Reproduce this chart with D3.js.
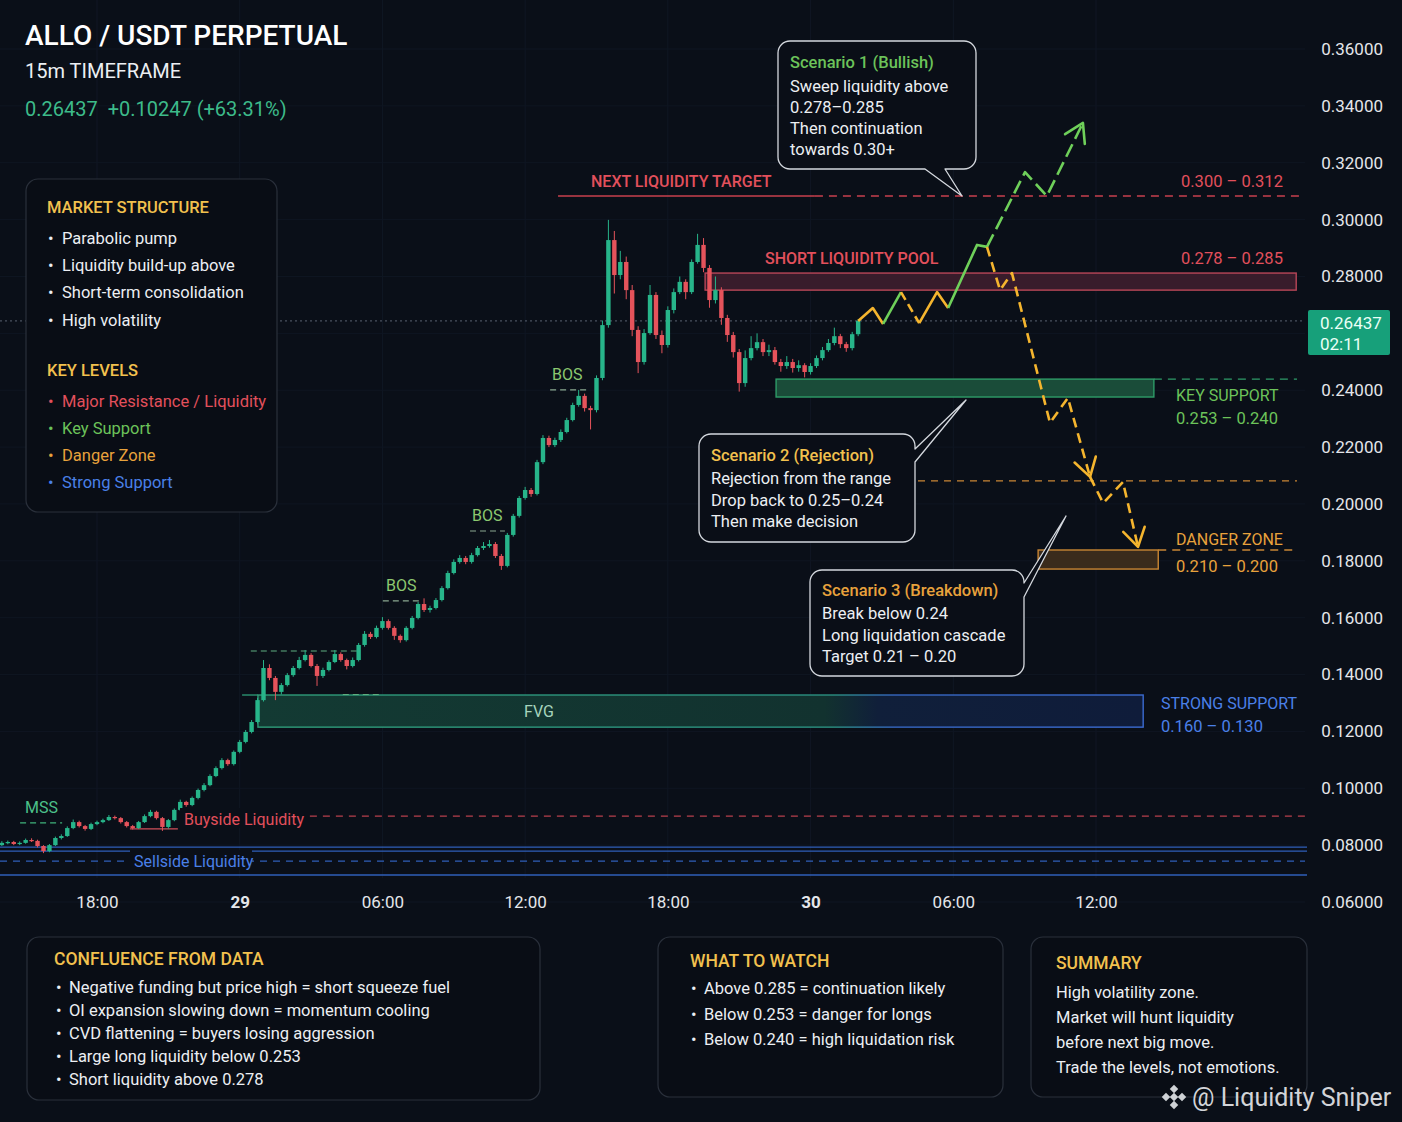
<!DOCTYPE html>
<html>
<head>
<meta charset="utf-8">
<script src="https://cdn.jsdelivr.net/npm/d3@7"></script>
<style>
  body { margin: 0; background: #0a0f18; }
  svg { display: block; font-family: Roboto, "Noto Sans", sans-serif; }
  text { white-space: pre; }
</style>
</head>
<body>
<div id="chart"></div>
<script>
// ---- data ----
const startTime = "28 14:00";           // first 15m candle
const firstOpen = 0.0800;
const closes = [
  0.0808,0.0811,0.0804,0.0808,0.0818,0.0815,0.0797,0.0779,0.0800,0.0825,
  0.0832,0.0860,0.0881,0.0867,0.0857,0.0874,0.0881,0.0888,0.0899,0.0895,
  0.0881,0.0867,0.0860,0.0881,0.0902,0.0917,0.0895,0.0864,0.0888,0.0924,
  0.0952,0.0941,0.0966,0.0994,0.1011,0.1043,0.1071,0.1099,0.1085,0.1128,
  0.1163,0.1198,0.1233,0.1310,0.1423,0.1388,0.1339,0.1363,0.1398,0.1423,
  0.1451,0.1469,0.1430,0.1395,0.1416,0.1444,0.1472,0.1451,0.1430,0.1451,
  0.1504,0.1543,0.1532,0.1564,0.1588,0.1564,0.1536,0.1521,0.1564,0.1599,
  0.1648,0.1627,0.1634,0.1662,0.1704,0.1757,0.1796,0.1810,0.1796,0.1820,
  0.1845,0.1852,0.1859,0.1817,0.1782,0.1891,0.1958,0.2021,0.2049,0.2035,
  0.2147,0.2232,0.2207,0.2225,0.2253,0.2295,0.2348,0.2380,0.2337,0.2330,
  0.2443,0.2629,0.2928,0.2805,0.2851,0.2752,0.2612,0.2499,0.2601,0.2735,
  0.2594,0.2559,0.2682,0.2745,0.2781,0.2745,0.2851,0.2911,0.2830,0.2717,
  0.2752,0.2654,0.2594,0.2534,0.2425,0.2513,0.2548,0.2569,0.2534,0.2541,
  0.2499,0.2485,0.2499,0.2478,0.2488,0.2464,0.2485,0.2513,0.2541,0.2566,
  0.2590,0.2562,0.2548,0.2597,0.26437];
const highs = [
  0.0814,0.0816,0.0815,0.0813,0.0823,0.0824,0.0819,0.0800,0.0804,0.0830,
  0.0838,0.0866,0.0890,0.0886,0.0871,0.0879,0.0886,0.0893,0.0906,0.0904,
  0.0899,0.0885,0.0871,0.0885,0.0908,0.0924,0.0921,0.0899,0.0892,0.0929,
  0.0960,0.0956,0.0971,0.0999,0.1018,0.1049,0.1077,0.1106,0.1104,0.1133,
  0.1170,0.1205,0.1240,0.1318,0.1451,0.1436,0.1395,0.1370,0.1405,0.1430,
  0.1462,0.1486,0.1475,0.1437,0.1424,0.1450,0.1486,0.1478,0.1456,0.1460,
  0.1511,0.1553,0.1550,0.1572,0.1602,0.1594,0.1570,0.1541,0.1570,0.1606,
  0.1655,0.1668,0.1642,0.1669,0.1711,0.1765,0.1805,0.1820,0.1817,0.1828,
  0.1852,0.1866,0.1873,0.1866,0.1824,0.1898,0.1965,0.2028,0.2060,0.2056,
  0.2155,0.2242,0.2240,0.2233,0.2262,0.2303,0.2356,0.2401,0.2388,0.2345,
  0.2452,0.2645,0.2999,0.2960,0.2890,0.2870,0.2770,0.2625,0.2615,0.2770,
  0.2745,0.2610,0.2695,0.2758,0.2800,0.2790,0.2860,0.2950,0.2935,0.2840,
  0.2800,0.2762,0.2665,0.2605,0.2545,0.2540,0.2590,0.2600,0.2580,0.2560,
  0.2552,0.2510,0.2520,0.2510,0.2505,0.2495,0.2495,0.2522,0.2552,0.2580,
  0.2620,0.2598,0.2570,0.2605,0.2650];
const lows = [
  0.0797,0.0803,0.0800,0.0800,0.0805,0.0811,0.0792,0.0772,0.0775,0.0797,
  0.0820,0.0829,0.0856,0.0862,0.0851,0.0853,0.0870,0.0877,0.0885,0.0890,
  0.0876,0.0862,0.0855,0.0857,0.0878,0.0898,0.0890,0.0850,0.0858,0.0884,
  0.0920,0.0935,0.0937,0.0961,0.0989,0.1007,0.1039,0.1066,0.1079,0.1080,
  0.1123,0.1158,0.1193,0.1228,0.1305,0.1380,0.1310,0.1330,0.1358,0.1392,
  0.1418,0.1446,0.1425,0.1360,0.1388,0.1411,0.1440,0.1445,0.1418,0.1425,
  0.1446,0.1498,0.1525,0.1527,0.1558,0.1558,0.1522,0.1512,0.1516,0.1559,
  0.1594,0.1620,0.1618,0.1629,0.1657,0.1699,0.1752,0.1790,0.1788,0.1790,
  0.1815,0.1838,0.1846,0.1810,0.1768,0.1777,0.1885,0.1952,0.2015,0.2025,
  0.2030,0.2140,0.2200,0.2200,0.2218,0.2248,0.2290,0.2342,0.2325,0.2262,
  0.2322,0.2435,0.2620,0.2740,0.2790,0.2720,0.2590,0.2460,0.2490,0.2595,
  0.2580,0.2530,0.2550,0.2670,0.2738,0.2720,0.2738,0.2845,0.2815,0.2690,
  0.2705,0.2630,0.2570,0.2515,0.2395,0.2412,0.2505,0.2540,0.2520,0.2520,
  0.2490,0.2465,0.2475,0.2462,0.2465,0.2445,0.2455,0.2478,0.2505,0.2535,
  0.2558,0.2548,0.2535,0.2540,0.2590];

const lastPrice = 0.26437;
const priceTicks = [0.36,0.34,0.32,0.30,0.28,0.26,0.24,0.22,0.20,0.18,0.16,0.14,0.12,0.10,0.08,0.06];
const timeTicks = ["28 18:00","29 00:00","29 06:00","29 12:00","29 18:00","30 00:00","30 06:00","30 12:00"];

// zones as drawn: [from, to, lower price, upper price]
const shortPool   = ["29 19:34", "30 20:25", 0.2752, 0.2812];
const keySupport  = ["29 22:33", "30 14:26", 0.2376, 0.2439];
const dangerZone  = ["30 09:34", "30 14:37", 0.1771, 0.1838];
const fvgZone     = ["29 00:46", "30 13:59", 0.1215, 0.1328];

// levels: [from, to, price]
const nextTargetSolid = ["29 13:23", "30 00:11", 0.3083];
const nextTargetDash  = ["30 00:11", "30 20:47", 0.3083];
const keySupportDash  = ["30 14:26", "30 20:27", 0.2439];
const midOrangeDash   = ["30 04:31", "30 20:27", 0.2081];
const dangerDash      = ["30 14:37", "30 20:27", 0.1838];
const fvgTopExt       = ["29 00:06", "29 00:46", 0.1328];
const buysideDash     = ["29 02:57", "30 20:47", 0.0902];
const buysideSolid    = ["28 19:23", "28 21:24", 0.0857];
const mssDash         = ["28 14:46", "28 16:32", 0.0878];
const bosLevels = [["29 06:01","29 07:35",0.1659],["29 09:41","29 11:09",0.1905],["29 13:03","29 14:36",0.2401]];
const greenDashLevels = [["29 00:28","29 04:56",0.1483],["29 04:20","29 06:00",0.1330]];
const sellsideSolid = [0.0793, 0.0779, 0.0695];
const sellsideDash  = 0.0744;

// projected scenarios
const rangePath = [["30 02:00",0.26437],["30 02:37",0.2689],["30 03:03",0.2633],["30 03:48",0.2745],
                   ["30 04:34",0.2636],["30 05:19",0.2745],["30 05:47",0.2689]];
const bullPath  = [["30 05:47",0.2689],["30 07:00",0.2911],["30 07:25",0.2904]];
const bullDash  = [["30 07:25",0.2904],["30 09:01",0.3167],["30 09:56",0.3083],["30 11:27",0.3340]];
const dropPathA = [["30 07:25",0.2904],["30 07:58",0.2752],["30 08:28",0.2812],["30 10:04",0.2285],
                   ["30 10:49",0.2373],["30 11:45",0.2095]];
const dropPathB = [["30 11:45",0.2095],["30 12:18",0.2003],["30 13:08",0.2077],["30 13:46",0.1849]];

// ---- setup ----
const W = 1402, H = 1122;
const parseT = d3.timeParse("%Y-%m-%d %H:%M");
const T = s => parseT("2025-12-" + s);

const x = d3.scaleTime().domain([T("28 18:00"), T("30 12:00")]).range([97, 1096]);
const y = d3.scaleLinear().domain([0.06, 0.36]).range([902, 49]);
const xL = 0, xR = 1305;

const candles = closes.map((c, i) => ({
  t: d3.timeMinute.offset(T(startTime), 15 * i),
  o: i === 0 ? firstOpen : closes[i - 1],
  h: highs[i], l: lows[i], c: c
}));

const svg = d3.select("#chart").append("svg").attr("width", W).attr("height", H);
const defs = svg.append("defs");

svg.append("rect").attr("width", W).attr("height", H).attr("fill", "#0a0f18");

// faint grid
svg.append("g").selectAll("line").data(timeTicks).enter().append("line")
  .attr("x1", d => x(T(d))).attr("x2", d => x(T(d))).attr("y1", 0).attr("y2", 878)
  .attr("stroke", "#101724").attr("stroke-width", 1);
svg.append("g").selectAll("line").data(priceTicks).enter().append("line")
  .attr("x1", xL).attr("x2", xR).attr("y1", d => y(d)).attr("y2", d => y(d))
  .attr("stroke", "#0f1622").attr("stroke-width", 1);

// gradients
const fvgFill = defs.append("linearGradient").attr("id", "fvgFill");
fvgFill.append("stop").attr("offset", "0%").attr("stop-color", "#133a33");
fvgFill.append("stop").attr("offset", "64%").attr("stop-color", "#12322f");
fvgFill.append("stop").attr("offset", "70%").attr("stop-color", "#101f3a");
fvgFill.append("stop").attr("offset", "100%").attr("stop-color", "#0f1c3a");
const fvgStroke = defs.append("linearGradient").attr("id", "fvgStroke");
fvgStroke.append("stop").attr("offset", "0%").attr("stop-color", "#2e9c78");
fvgStroke.append("stop").attr("offset", "65%").attr("stop-color", "#2a8f80");
fvgStroke.append("stop").attr("offset", "72%").attr("stop-color", "#3565c0");
fvgStroke.append("stop").attr("offset", "100%").attr("stop-color", "#3a6ad0");

// arrow markers
function chevron(id, color) {
  defs.append("marker").attr("id", id)
    .attr("viewBox", "-22 -14 26 28").attr("refX", 0).attr("refY", 0)
    .attr("markerWidth", 26).attr("markerHeight", 28)
    .attr("markerUnits", "userSpaceOnUse").attr("orient", "auto")
    .append("path").attr("d", "M-18,-11 L0,0 L-18,11")
    .attr("fill", "none").attr("stroke", color).attr("stroke-width", 2.6)
    .attr("stroke-linecap", "round").attr("stroke-linejoin", "round");
}
chevron("arrG", "#6fd05a");
chevron("arrY", "#f5b52e");

// ---- zones ----
function zone(z, fill, stroke, sw) {
  svg.append("rect")
    .attr("x", x(T(z[0]))).attr("width", x(T(z[1])) - x(T(z[0])))
    .attr("y", y(z[3])).attr("height", y(z[2]) - y(z[3]))
    .attr("fill", fill).attr("stroke", stroke).attr("stroke-width", sw || 1.4);
}
zone(shortPool, "#381c2b", "#b84658");
zone(keySupport, "#1a4c39", "#2e9c68");
zone(dangerZone, "#3a2b1c", "#c98634");
zone(fvgZone, "url(#fvgFill)", "url(#fvgStroke)");

function level(l, color, dash, sw) {
  svg.append("line")
    .attr("x1", x(T(l[0]))).attr("x2", x(T(l[1])))
    .attr("y1", y(l[2])).attr("y2", y(l[2]))
    .attr("stroke", color).attr("stroke-width", sw || 1.3)
    .attr("stroke-dasharray", dash || null);
}
level(nextTargetSolid, "#c8404d");
level(nextTargetDash, "#c8404d", "8,6");
level(keySupportDash, "#2e9c68", "8,6");
level(midOrangeDash, "#c98634", "7,6");
level(dangerDash, "#c98634", "8,6");
level(fvgTopExt, "#2e9c78");
level(buysideDash, "#b8404c", "7,6");
level(buysideSolid, "#d0505a");
level(mssDash, "#3fb27a", "6,4");
bosLevels.forEach(l => level(l, "#8aa890", "6,4", 1.1));
greenDashLevels.forEach(l => level(l, "#5fae80", "6,4", 1.1));

// sellside
sellsideSolid.forEach(p => svg.append("line").attr("x1", xL).attr("x2", xR + 2)
  .attr("y1", y(p)).attr("y2", y(p)).attr("stroke", "#2f5fb8").attr("stroke-width", 1.4));
svg.append("line").attr("x1", xL).attr("x2", xR).attr("y1", y(sellsideDash)).attr("y2", y(sellsideDash))
  .attr("stroke", "#2f5fb8").attr("stroke-width", 1.2).attr("stroke-dasharray", "7,6");

// last price dotted line
svg.append("line").attr("x1", xL).attr("x2", xR).attr("y1", y(lastPrice)).attr("y2", y(lastPrice))
  .attr("stroke", "#5a6272").attr("stroke-width", 1).attr("stroke-dasharray", "2,3");

// ---- candles ----
const up = "#27b58a", down = "#e5535b";
const cg = svg.append("g");
cg.selectAll("line").data(candles).enter().append("line")
  .attr("x1", d => x(d.t)).attr("x2", d => x(d.t))
  .attr("y1", d => y(d.h)).attr("y2", d => y(d.l))
  .attr("stroke", d => d.c >= d.o ? up : down).attr("stroke-width", 1);
cg.selectAll("rect").data(candles).enter().append("rect")
  .attr("x", d => x(d.t) - 2.2).attr("width", 4.4)
  .attr("y", d => y(Math.max(d.o, d.c)))
  .attr("height", d => Math.max(1.2, Math.abs(y(d.o) - y(d.c))))
  .attr("fill", d => d.c >= d.o ? up : down);

// ---- scenario paths ----
const line = d3.line().x(d => x(T(d[0]))).y(d => y(d[1]));
function seg(pts, color, dash, marker) {
  svg.append("path").attr("d", line(pts)).attr("fill", "none")
    .attr("stroke", color).attr("stroke-width", 2.6)
    .attr("stroke-linejoin", "round").attr("stroke-linecap", "butt")
    .attr("stroke-dasharray", dash || null)
    .attr("marker-end", marker ? "url(#" + marker + ")" : null);
}
const G = "#6fd05a", Y = "#f5b52e";
seg(rangePath.slice(0, 3), Y);
seg(rangePath.slice(2, 4), G);
seg(rangePath.slice(3, 5), Y, "9,5");
seg(rangePath.slice(4, 7), Y);
seg(bullPath, G);
seg(bullDash, G, "14,6", "arrG");
seg(dropPathA, Y, "10,6", "arrY");
seg(dropPathB, Y, "10,6", "arrY");

// ---- callouts ----
function callout(bx, by, bw, bh, side, a, b, tip) {
  const r = 12;
  let p = `M${bx + r},${by} H${bx + bw - r} A${r},${r} 0 0 1 ${bx + bw},${by + r} `;
  if (side === "right") p += `V${a} L${tip[0]},${tip[1]} L${bx + bw},${b} `;
  p += `V${by + bh - r} A${r},${r} 0 0 1 ${bx + bw - r},${by + bh} `;
  if (side === "bottom") p += `H${b} L${tip[0]},${tip[1]} L${a},${by + bh} `;
  p += `H${bx + r} A${r},${r} 0 0 1 ${bx},${by + bh - r} V${by + r} A${r},${r} 0 0 1 ${bx + r},${by} Z`;
  svg.append("path").attr("d", p).attr("fill", "#0a0e17")
    .attr("stroke", "#d4d8de").attr("stroke-width", 1.3).attr("stroke-linejoin", "round");
}
function textBlock(tx, lines, color0, baselines, size) {
  const g = svg.append("g");
  lines.forEach((s, i) => g.append("text").attr("x", tx).attr("y", baselines[i])
    .attr("fill", i === 0 ? color0 : "#eceff3").attr("font-size", size || 16.5)
    .attr("font-weight", i === 0 ? 500 : 400).text(s));
}
callout(778, 41, 198, 128, "bottom", 925, 945, [962, 196]);
textBlock(790, ["Scenario 1 (Bullish)", "Sweep liquidity above", "0.278–0.285", "Then continuation", "towards 0.30+"],
  "#6cc35a", [68, 92, 113, 134, 155]);
callout(699, 434, 216, 108, "right", 449, 462, [966, 400]);
textBlock(711, ["Scenario 2 (Rejection)", "Rejection from the range", "Drop back to 0.25–0.24", "Then make decision"],
  "#f2c14e", [461, 484, 506, 527]);
callout(810, 570, 214, 106, "right", 583, 597, [1066, 516]);
textBlock(822, ["Scenario 3 (Breakdown)", "Break below 0.24", "Long liquidation cascade", "Target 0.21 – 0.20"],
  "#e8a23c", [596, 619, 641, 662]);

// ---- level labels ----
function label(tx, ty, s, color, size, anchor, weight) {
  svg.append("text").attr("x", tx).attr("y", ty).attr("fill", color)
    .attr("font-size", size || 15).attr("text-anchor", anchor || "start")
    .attr("font-weight", weight || 400).text(s);
}
const RED = "#e2505c", GRN = "#6cc35a", ORG = "#e8a23c", BLU = "#4a80e8";
label(591, 187, "NEXT LIQUIDITY TARGET", RED, 16, "start", 500);
label(1181, 187, "0.300 – 0.312", RED, 16.5);
label(765, 264, "SHORT LIQUIDITY POOL", RED, 16, "start", 500);
label(1181, 264, "0.278 – 0.285", RED, 16.5);
label(1176, 401, "KEY SUPPORT", GRN, 16);
label(1176, 424, "0.253 – 0.240", GRN, 16.5);
label(1176, 545, "DANGER ZONE", ORG, 16);
label(1176, 572, "0.210 – 0.200", ORG, 16.5);
label(1161, 709, "STRONG SUPPORT", BLU, 16);
label(1161, 732, "0.160 – 0.130", BLU, 16.5);
label(539, 717, "FVG", "#a6d4bd", 16, "middle");
svg.append("rect").attr("x", 180).attr("y", 808).attr("width", 124).attr("height", 20).attr("fill", "#0a0f18");
label(184, 825, "Buyside Liquidity", RED, 16);
svg.append("rect").attr("x", 130).attr("y", 850).attr("width", 122).attr("height", 20).attr("fill", "#0a0f18");
label(134, 867, "Sellside Liquidity", BLU, 16);
label(25, 813, "MSS", "#4cc08a", 16);
label(386, 591, "BOS", "#8cc870", 16);
label(472, 521, "BOS", "#8cc870", 16);
label(552, 380, "BOS", "#8cc870", 16);

// ---- axes ----
const fmtTime = d => d.getHours() === 0 ? d3.timeFormat("%-d")(d) : d3.timeFormat("%H:%M")(d);
const xAxis = svg.append("g").attr("transform", "translate(0,896)")
  .call(d3.axisBottom(x).tickValues(timeTicks.map(T)).tickFormat(fmtTime).tickSize(0).tickPadding(0));
xAxis.select(".domain").remove();
xAxis.selectAll("text").attr("fill", "#e4e6ea").attr("font-size", 17)
  .attr("font-family", "Roboto, sans-serif")
  .attr("font-weight", d => d.getHours() === 0 ? 700 : 400);

const yAxis = svg.append("g").attr("transform", "translate(1383,0)")
  .call(d3.axisRight(y).tickValues(priceTicks).tickFormat(d3.format(".5f")).tickSize(0).tickPadding(0));
yAxis.select(".domain").remove();
yAxis.selectAll("text").attr("fill", "#e4e6ea").attr("font-size", 17)
  .attr("font-family", "Roboto, sans-serif").attr("text-anchor", "end");
yAxis.selectAll(".tick").filter(d => d === 0.26).remove();

// current price tag
svg.append("rect").attr("x", 1308).attr("y", y(lastPrice) - 11).attr("width", 82).attr("height", 45)
  .attr("rx", 2).attr("fill", "#17a07a");
label(1320, y(lastPrice) + 8, d3.format(".5f")(lastPrice), "#eafff6", 17);
label(1320, y(lastPrice) + 29, "02:11", "#eafff6", 17);

// ---- header ----
label(25, 45, "ALLO / USDT PERPETUAL", "#ffffff", 28, "start", 500);
label(25, 78, "15m TIMEFRAME", "#eceff3", 20);
label(25, 116, "0.26437  +0.10247 (+63.31%)", "#3dbb8a", 20);

// ---- info panels ----
function panel(px, py, pw, ph) {
  svg.append("rect").attr("x", px).attr("y", py).attr("width", pw).attr("height", ph)
    .attr("rx", 12).attr("fill", "#090d15").attr("stroke", "#2a303b").attr("stroke-width", 1.2);
}
function bullets(bx, tx, items, baselines, colors, size) {
  items.forEach((s, i) => {
    const c = colors ? colors[i] : "#eceff3";
    label(bx, baselines[i], "•", c, size || 16.5);
    label(tx, baselines[i], s, c, size || 16.5);
  });
}
const YEL = "#f2c14e";
panel(26, 179, 251, 333);
label(47, 213, "MARKET STRUCTURE", YEL, 16.5, "start", 500);
bullets(48, 62, ["Parabolic pump", "Liquidity build-up above", "Short-term consolidation", "High volatility"],
  [244, 271, 298, 326]);
label(47, 376, "KEY LEVELS", YEL, 16.5, "start", 500);
bullets(48, 62, ["Major Resistance / Liquidity", "Key Support", "Danger Zone", "Strong Support"],
  [407, 434, 461, 488], [RED, GRN, ORG, BLU]);

panel(27, 937, 513, 163);
label(54, 965, "CONFLUENCE FROM DATA", YEL, 17.5, "start", 500);
bullets(56, 69, ["Negative funding but price high = short squeeze fuel",
  "OI expansion slowing down = momentum cooling",
  "CVD flattening = buyers losing aggression",
  "Large long liquidity below 0.253",
  "Short liquidity above 0.278"], [993, 1016, 1039, 1062, 1085]);

panel(658, 937, 345, 160);
label(690, 967, "WHAT TO WATCH", YEL, 17.5, "start", 500);
bullets(691, 704, ["Above 0.285 = continuation likely", "Below 0.253 = danger for longs",
  "Below 0.240 = high liquidation risk"], [994, 1020, 1045]);

panel(1031, 937, 276, 160);
label(1056, 969, "SUMMARY", YEL, 17.5, "start", 500);
["High volatility zone.", "Market will hunt liquidity", "before next big move.", "Trade the levels, not emotions."]
  .forEach((s, i) => label(1056, [998, 1023, 1048, 1073][i], s, "#eceff3", 16.5));

// watermark
const wm = svg.append("g").attr("fill", "#cfd2d6");
[[0, -8], [8, 0], [0, 8], [-8, 0], [0, 0]].forEach(o => wm.append("rect")
  .attr("x", -3).attr("y", -3).attr("width", 6).attr("height", 6)
  .attr("transform", `translate(${1174 + o[0]},${1097 + o[1]}) rotate(45)`));
label(1192, 1106, "@ Liquidity Sniper", "#d2d4d8", 25, "start", 400);
</script>
</body>
</html>
